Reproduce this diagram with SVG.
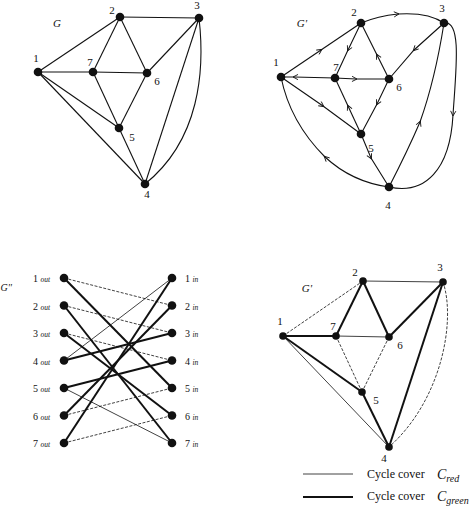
<svg xmlns="http://www.w3.org/2000/svg" width="474" height="509" viewBox="0 0 474 509">
<style>
text{font-family:"Liberation Serif","Times New Roman",serif;fill:#111}
.n{font-size:11px;text-anchor:middle}
.it{font-style:italic}
.e{stroke:#111;stroke-width:1.1;fill:none}
.a{stroke:#111;stroke-width:1.1;fill:none;marker-mid:url(#arr)}
.g{stroke:#111;stroke-width:2;fill:none}
.r{stroke:#111;stroke-width:0.8;fill:none}
.rd{stroke:#111;stroke-width:0.8;fill:none;stroke-dasharray:3,1.5}
.v{fill:#111}
.lb{font-size:10px}
.sm{font-size:7.5px;font-style:italic}
</style>
<defs>
<marker id="arr" markerUnits="userSpaceOnUse" markerWidth="10" markerHeight="10" refX="0" refY="0" viewBox="-6 -5 10 10" orient="auto" overflow="visible">
<path d="M-4,-2.6 L1,0 L-4,2.6" fill="none" stroke="#111" stroke-width="0.9"/>
</marker>
</defs>

<!-- Graph G -->
<g id="G-edges">
<line class="e" x1="38" y1="72" x2="120" y2="17"/>
<line class="e" x1="38" y1="72" x2="93" y2="72"/>
<line class="e" x1="38" y1="72" x2="119" y2="128"/>
<line class="e" x1="38" y1="72" x2="145" y2="184"/>
<line class="e" x1="120" y1="17" x2="199" y2="18"/>
<line class="e" x1="120" y1="17" x2="93" y2="72"/>
<line class="e" x1="120" y1="17" x2="147" y2="73"/>
<line class="e" x1="93" y1="72" x2="147" y2="73"/>
<line class="e" x1="93" y1="72" x2="119" y2="128"/>
<line class="e" x1="147" y1="73" x2="119" y2="128"/>
<line class="e" x1="147" y1="73" x2="199" y2="18"/>
<line class="e" x1="119" y1="128" x2="145" y2="184"/>
<line class="e" x1="199" y1="18" x2="145" y2="184"/>
<path class="e" d="M199,18 C205,70 200,140 145,184"/>
</g>
<g id="G-nodes">
<g id="G-n1"><circle class="v" cx="38" cy="72" r="4.3"/><text class="n" x="36" y="62">1</text></g>
<g id="G-n2"><circle class="v" cx="120" cy="17" r="4.3"/><text class="n" x="112" y="14">2</text></g>
<g id="G-n3"><circle class="v" cx="199" cy="18" r="4.3"/><text class="n" x="197" y="9">3</text></g>
<g id="G-n4"><circle class="v" cx="145" cy="184" r="4.3"/><text class="n" x="147" y="198">4</text></g>
<g id="G-n5"><circle class="v" cx="119" cy="128" r="4.3"/><text class="n" x="132" y="141">5</text></g>
<g id="G-n6"><circle class="v" cx="147" cy="73" r="4.3"/><text class="n" x="157" y="85">6</text></g>
<g id="G-n7"><circle class="v" cx="93" cy="72" r="4.3"/><text class="n" x="90" y="66">7</text></g>
<text class="n it" x="57" y="27">G</text>
</g>

<!-- Directed graph G' -->
<g id="Gp-edges">
<path class="a" d="M281,77 L321,50 L361,23"/>
<path class="a" d="M361,23 Q378,16 398,14 Q428,12 444,23"/>
<path class="a" d="M444,23 C462,20 456,70 453,115 C450,170 425,195 389,187"/>
<path class="a" d="M389,187 Q352,182 325,157 Q290,122 281,77"/>
<path class="a" d="M361,23 L348,50 L335,78"/>
<path class="a" d="M389,79 L377,55 L361,23"/>
<path class="a" d="M444,23 L414,50 L389,79"/>
<path class="a" d="M335,78 L294,77 L281,77"/>
<path class="a" d="M335,78 L356,79 L389,79"/>
<path class="a" d="M389,79 L377,104 L361,134"/>
<path class="a" d="M361,134 L348,106 L335,78"/>
<path class="a" d="M281,77 L323,106 L361,134"/>
<path class="a" d="M361,134 L371,158 L389,187"/>
<path class="a" d="M389,187 Q408,150 420,122 Q435,80 444,23"/>
</g>
<g id="Gp-nodes">
<g id="Gp-n1"><circle class="v" cx="281" cy="77" r="4.3"/><text class="n" x="276" y="66">1</text></g>
<g id="Gp-n2"><circle class="v" cx="361" cy="23" r="4.3"/><text class="n" x="354" y="16">2</text></g>
<g id="Gp-n3"><circle class="v" cx="444" cy="23" r="4.3"/><text class="n" x="442" y="12">3</text></g>
<g id="Gp-n4"><circle class="v" cx="389" cy="187" r="4.3"/><text class="n" x="388" y="209">4</text></g>
<g id="Gp-n5"><circle class="v" cx="361" cy="134" r="4.3"/><text class="n" x="371" y="152">5</text></g>
<g id="Gp-n6"><circle class="v" cx="389" cy="79" r="4.3"/><text class="n" x="399" y="91">6</text></g>
<g id="Gp-n7"><circle class="v" cx="335" cy="78" r="4.3"/><text class="n" x="336" y="71">7</text></g>
<text class="n it" x="302" y="27">G'</text>
</g>

<!-- Bipartite G'' -->
<g id="Gpp-edges">
<line class="rd" x1="64" y1="278" x2="172" y2="305.5"/>
<line class="g" x1="64" y1="278" x2="172" y2="388"/>
<line class="rd" x1="64" y1="305.5" x2="172" y2="333"/>
<line class="g" x1="64" y1="305.5" x2="172" y2="443"/>
<line class="rd" x1="64" y1="333" x2="172" y2="360.5"/>
<line class="g" x1="64" y1="333" x2="172" y2="415.5"/>
<line class="r" x1="64" y1="360.5" x2="172" y2="278"/>
<line class="g" x1="64" y1="360.5" x2="172" y2="333"/>
<line class="g" x1="64" y1="388" x2="172" y2="360.5"/>
<line class="r" x1="64" y1="388" x2="172" y2="443"/>
<line class="g" x1="64" y1="415.5" x2="172" y2="305.5"/>
<line class="rd" x1="64" y1="415.5" x2="172" y2="388"/>
<line class="g" x1="64" y1="443" x2="172" y2="278"/>
<line class="rd" x1="64" y1="443" x2="172" y2="415.5"/>
</g>
<g id="Gpp-nodes">
<text class="lb it" x="0.5" y="291" font-size="11">G''</text>
<g id="o1"><circle class="v" cx="64" cy="278" r="4.3"/><text class="lb" x="33" y="282">1 <tspan class="sm">out</tspan></text></g>
<g id="o2"><circle class="v" cx="64" cy="305.5" r="4.3"/><text class="lb" x="33" y="309.5">2 <tspan class="sm">out</tspan></text></g>
<g id="o3"><circle class="v" cx="64" cy="333" r="4.3"/><text class="lb" x="33" y="337">3 <tspan class="sm">out</tspan></text></g>
<g id="o4"><circle class="v" cx="64" cy="360.5" r="4.3"/><text class="lb" x="33" y="364.5">4 <tspan class="sm">out</tspan></text></g>
<g id="o5"><circle class="v" cx="64" cy="388" r="4.3"/><text class="lb" x="33" y="392">5 <tspan class="sm">out</tspan></text></g>
<g id="o6"><circle class="v" cx="64" cy="415.5" r="4.3"/><text class="lb" x="33" y="419.5">6 <tspan class="sm">out</tspan></text></g>
<g id="o7"><circle class="v" cx="64" cy="443" r="4.3"/><text class="lb" x="33" y="447">7 <tspan class="sm">out</tspan></text></g>
<g id="i1"><circle class="v" cx="172" cy="278" r="4.3"/><text class="lb" x="185" y="282">1 <tspan class="sm">in</tspan></text></g>
<g id="i2"><circle class="v" cx="172" cy="305.5" r="4.3"/><text class="lb" x="185" y="309.5">2 <tspan class="sm">in</tspan></text></g>
<g id="i3"><circle class="v" cx="172" cy="333" r="4.3"/><text class="lb" x="185" y="337">3 <tspan class="sm">in</tspan></text></g>
<g id="i4"><circle class="v" cx="172" cy="360.5" r="4.3"/><text class="lb" x="185" y="364.5">4 <tspan class="sm">in</tspan></text></g>
<g id="i5"><circle class="v" cx="172" cy="388" r="4.3"/><text class="lb" x="185" y="392">5 <tspan class="sm">in</tspan></text></g>
<g id="i6"><circle class="v" cx="172" cy="415.5" r="4.3"/><text class="lb" x="185" y="419.5">6 <tspan class="sm">in</tspan></text></g>
<g id="i7"><circle class="v" cx="172" cy="443" r="4.3"/><text class="lb" x="185" y="447">7 <tspan class="sm">in</tspan></text></g>
</g>

<!-- Cycle covers on G' -->
<g id="Gc-edges">
<line class="r" x1="363" y1="281" x2="443" y2="282"/>
<line class="rd" x1="283" y1="336" x2="363" y2="281"/>
<line class="g" x1="363" y1="281" x2="336" y2="336"/>
<line class="g" x1="363" y1="281" x2="389" y2="337"/>
<line class="g" x1="283" y1="336" x2="336" y2="336"/>
<line class="r" x1="336" y1="336" x2="389" y2="337"/>
<line class="g" x1="389" y1="337" x2="443" y2="282"/>
<line class="rd" x1="336" y1="336" x2="362" y2="392"/>
<line class="rd" x1="389" y1="337" x2="362" y2="392"/>
<line class="g" x1="283" y1="336" x2="362" y2="392"/>
<line class="r" x1="283" y1="336" x2="389" y2="447"/>
<line class="g" x1="362" y1="392" x2="389" y2="447"/>
<line class="g" x1="443" y1="282" x2="389" y2="447"/>
<path class="rd" d="M443,282 C456,320 442,400 389,447"/>
</g>
<g id="Gc-nodes">
<g id="c1"><circle class="v" cx="283" cy="336" r="3.8"/><text class="n" x="280" y="325">1</text></g>
<g id="c2"><circle class="v" cx="363" cy="281" r="3.8"/><text class="n" x="355" y="276">2</text></g>
<g id="c3"><circle class="v" cx="443" cy="282" r="3.8"/><text class="n" x="440" y="271">3</text></g>
<g id="c4"><circle class="v" cx="389" cy="447" r="3.8"/><text class="n" x="384" y="462">4</text></g>
<g id="c5"><circle class="v" cx="362" cy="392" r="3.8"/><text class="n" x="376" y="404">5</text></g>
<g id="c6"><circle class="v" cx="389" cy="337" r="3.8"/><text class="n" x="400" y="349">6</text></g>
<g id="c7"><circle class="v" cx="336" cy="336" r="3.8"/><text class="n" x="333" y="330">7</text></g>
<text class="n it" x="307" y="292">G'</text>
</g>

<!-- Legend -->
<g id="legend">
<line class="r" x1="303" y1="474" x2="353" y2="474"/>
<line class="g" x1="303" y1="497" x2="353" y2="497"/>
<text x="367" y="478" font-size="12">Cycle cover</text>
<text x="437" y="479" font-size="14" class="it">C<tspan font-size="10" dy="3">red</tspan></text>
<text x="367" y="500" font-size="12">Cycle cover</text>
<text x="437" y="501" font-size="14" class="it">C<tspan font-size="10" dy="3">green</tspan></text>
</g>
</svg>
